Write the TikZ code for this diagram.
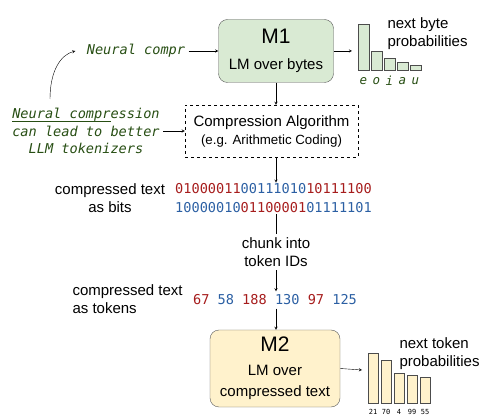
\documentclass[tikz,border=0pt]{standalone}
\usepackage{fontspec}
\setmainfont{Liberation Sans}
\setmonofont{DejaVu Sans Mono}
\usetikzlibrary{arrows,positioning}
\definecolor{mgreen}{HTML}{D9EAD3}
\definecolor{myellow}{HTML}{FFF2CC}
\definecolor{dkgreen}{HTML}{274E13}
\definecolor{bitred}{HTML}{A61C1C}
\definecolor{bitblue}{HTML}{2B5FA3}
\newcommand\bigtxt{\fontsize{15}{18}\selectfont}
\newcommand\midtxt{\fontsize{13.3}{16}\selectfont}
\newcommand\hugetxt{\fontsize{21}{24}\selectfont}
\newcommand\codetxt{\fontsize{13.6}{17.5}\selectfont\ttfamily}
\newcommand\greenul[1]{\setbox0\hbox{#1}\rlap{\rule[-3.5pt]{\wd0}{1.3pt}}#1}

\begin{document}
\begin{tikzpicture}[x=1pt,y=-1pt,>=stealth,
  model/.style={draw=black!65,rounded corners=9pt,align=center,inner sep=0pt},
  bar/.style={draw=black!70,line width=0.6pt},
  note/.style={text=dkgreen,font=\codetxt\itshape,align=center}]
\useasboundingbox (0,0) rectangle (480,417);

% top: M1
\node[model,fill=mgreen,minimum width=115pt,minimum height=63pt,
  font=\fontsize{15}{18}\selectfont] (m1) at (276,51)
  {{\hugetxt M1}\\[8pt]LM over bytes};
\coordinate (bytebars) at (352,51);
\draw[->] (m1.east) -- (bytebars);
\foreach \x/\t/\l in {358/24/e,371/51/o,384/58/i,397/62/a,410/65/u}{
  \draw[bar,fill=mgreen] (\x,70) rectangle ++(11,\t-70);
  \node[text=dkgreen,font=\fontsize{12.5}{14}\selectfont\ttfamily\itshape] at (\x+5.5,81) {\l};
}
\node[align=left,anchor=west,font=\bigtxt] (nextbyte) at (384,34) {next byte\\probabilities};

% green remarks
\node[note] (nc) at (136,51) {Neural compr};
\draw[->] (nc.east) -- (m1.west);
\node[note] (remark) at (86,131)
  {\greenul{Neural compr}ession\\can lead to better\\LLM tokenizers};
\coordinate (curvestart) at (50,99);
\draw[->] (curvestart) .. controls (50,72) and (60,55) .. ([xshift=-8pt]nc.west);

% compression
\node[draw,dashed,align=center,minimum width=173pt,minimum height=52pt,
  font=\fontsize{15}{18}\selectfont] (algo) at (271.5,131)
  {Compression Algorithm\\{\midtxt (e.g. Arithmetic Coding)}};
\draw[->] (remark.east) -- (algo.west);
\draw[->] (m1.south) -- (m1.south |- algo.north);

% bits
\node[font=\codetxt,inner sep=1pt] (bits1) at (273.5,189)
  {\textcolor{bitred}{01000011}\textcolor{bitblue}{00111010}\textcolor{bitred}{10111100}};
\node[font=\codetxt,inner sep=1pt] (bits2) at (273.5,208)
  {\textcolor{bitblue}{10000010}\textcolor{bitred}{01100001}\textcolor{bitblue}{01111101}};
\node[align=center,font=\bigtxt] (bitslab) at (110,198) {compressed text\\as bits};
\draw[->] (m1.south |- algo.south) -- (m1.south |- bits1.north);

% tokens
\node[align=center,font=\bigtxt] (chunk) at (276,252) {chunk into\\token IDs};
\draw (m1.south |- bits2.south) -- (m1.south |- chunk.north);
\node[font=\codetxt] (tokens) at (275,300)
  {\textcolor{bitred}{67} \textcolor{bitblue}{58} \textcolor{bitred}{188} \textcolor{bitblue}{130} \textcolor{bitred}{97} \textcolor{bitblue}{125}};
\node[align=left,anchor=west,font=\bigtxt] (toklab) at (69,299) {compressed text\\as tokens};
\draw[->] (chunk.south -| m1.south) -- (tokens.north -| m1.south);

% bottom: M2
\node[model,fill=myellow,minimum width=130pt,minimum height=77pt,
  font=\fontsize{15}{21}\selectfont] (m2) at (275,368.5)
  {{\hugetxt M2}\\[3pt]LM over\\compressed text};
\draw[->] (tokens.south -| m1.south) -- (m2.north -| m1.south);
\coordinate (tokbars) at (362,370);
\draw[->] (m2.east) -- (tokbars);
\foreach \x/\t/\l in {368/353/21,381/360/70,394/373/4,407/375/99,420/377/55}{
  \draw[bar,fill=myellow] (\x,403) rectangle ++(10,\t-403);
  \node[font=\fontsize{7}{8}\selectfont\ttfamily] at (\x+5,412) {\l};
}
\node[align=left,anchor=west,font=\bigtxt] (nexttok) at (396,354) {next token\\probabilities};
\end{tikzpicture}
\end{document}
